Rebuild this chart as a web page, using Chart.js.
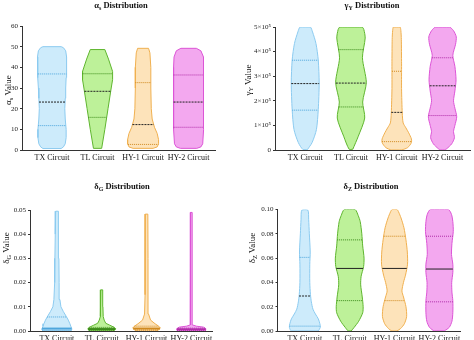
<!DOCTYPE html>
<html>
<head>
<meta charset="utf-8">
<script src="https://cdn.jsdelivr.net/npm/chart.js@4"></script>
<style>
  body { margin: 0; background: #fff; width: 474px; height: 340px; overflow: hidden; position: relative; }
  canvas { position: absolute; }
  .title { position: absolute; font: bold 8.5px 'Liberation Serif', serif; color: #111; white-space: nowrap; transform: translateX(-50%); }
  .ylab { position: absolute; font: 9px 'Liberation Serif', serif; color: #111; white-space: nowrap; transform: translate(-50%, -50%) rotate(-90deg); }
  sub { font-size: 70%; vertical-align: -2px; line-height: 0; }
</style>
</head>
<body>
<canvas id="alphaChart" width="237" height="170" style="left:0;top:0"></canvas>
<canvas id="gammaChart" width="237" height="170" style="left:237px;top:0"></canvas>
<canvas id="deltaGChart" width="237" height="181" style="left:0;top:170px"></canvas>
<canvas id="deltaZChart" width="237" height="181" style="left:237px;top:170px"></canvas>

<div class="title" style="left:121px;top:0px">α<sub>s</sub> Distribution</div>
<div class="title" style="left:372px;top:0px">γ<sub>Y</sub> Distribution</div>
<div class="title" style="left:122px;top:181px">δ<sub>G</sub> Distribution</div>
<div class="title" style="left:371px;top:181px">δ<sub>Z</sub> Distribution</div>
<div class="ylab" style="left:8px;top:90px">α<sub>s</sub> Value</div>
<div class="ylab" style="left:248px;top:80px">γ<sub>Y</sub> Value</div>
<div class="ylab" style="left:6px;top:248px">δ<sub>G</sub> Value</div>
<div class="ylab" style="left:252px;top:248px">δ<sub>Z</sub> Value</div>

<script>
const categories = ['TX Circuit', 'TL Circuit', 'HY-1 Circuit', 'HY-2 Circuit'];

// violin outlines: value levels and half widths (in category units), per circuit
const alphaVals = [
  [0.7, 1.5, 3, 6, 10, 15, 20, 25, 30, 35, 40, 45, 48, 49.5, 50],
  [0.8, 10, 20, 30, 34, 38, 44, 48.6],
  [0.8, 1.5, 3, 5, 8, 11, 15, 20, 30, 40, 47, 49.2],
  [0.8, 1.5, 3, 10, 20, 30, 40, 45, 48, 49.2]
];
const alphaWidths = [
  [0.20, 0.25, 0.29, 0.31, 0.31, 0.29, 0.28, 0.29, 0.30, 0.31, 0.32, 0.32, 0.30, 0.25, 0.20],
  [0.09, 0.16, 0.23, 0.30, 0.33, 0.33, 0.24, 0.16],
  [0.22, 0.31, 0.34, 0.34, 0.31, 0.25, 0.20, 0.18, 0.17, 0.17, 0.15, 0.12],
  [0.18, 0.27, 0.31, 0.33, 0.33, 0.33, 0.33, 0.32, 0.27, 0.17]
];
const alphaQuartiles = [[11.8, 23.2, 36.8], [15.8, 28.4, 36.9], [2.7, 12.3, 32.6], [11, 23.2, 36.3]];

const gammaVals = [
  [0.02e5, 0.3e5, 0.83e5, 1.64e5, 2.72e5, 3.66e5, 4.33e5, 4.8e5, 5e5],
  [0.03e5, 0.56e5, 1.3e5, 1.95e5, 2.75e5, 3.75e5, 4.55e5, 4.9e5, 5e5],
  [0, 0.1e5, 0.3e5, 0.45e5, 0.7e5, 0.9e5, 1.1e5, 1.5e5, 2.5e5, 3.5e5, 4.5e5, 4.85e5, 5e5],
  [0, 0.05e5, 0.25e5, 0.5e5, 0.75e5, 1e5, 1.35e5, 1.7e5, 2e5, 2.4e5, 2.85e5, 3.4e5, 3.85e5, 4.3e5, 4.6e5, 4.85e5, 5e5]
];
const gammaWidths = [
  [0.05, 0.15, 0.245, 0.285, 0.305, 0.285, 0.235, 0.16, 0.11],
  [0.04, 0.16, 0.30, 0.255, 0.335, 0.25, 0.31, 0.28, 0.24],
  [0.11, 0.24, 0.32, 0.32, 0.26, 0.20, 0.14, 0.12, 0.105, 0.105, 0.10, 0.09, 0.07],
  [0.04, 0.09, 0.20, 0.26, 0.24, 0.27, 0.31, 0.27, 0.24, 0.27, 0.295, 0.27, 0.225, 0.285, 0.30, 0.24, 0.15]
];
const gammaQuartiles = [[1.62e5, 2.70e5, 3.65e5], [1.75e5, 2.72e5, 4.08e5], [0.34e5, 1.53e5, 3.2e5], [1.40e5, 2.61e5, 3.75e5]];

const deltaGVals = [
  [0, 0.0005, 0.001, 0.002, 0.003, 0.0045, 0.006, 0.008, 0.010, 0.013, 0.020, 0.030, 0.040, 0.048, 0.0495],
  [0, 0.0003, 0.001, 0.0016, 0.0024, 0.0032, 0.0045, 0.006, 0.010, 0.017],
  [0, 0.0005, 0.0012, 0.002, 0.003, 0.0045, 0.007, 0.015, 0.030, 0.0483],
  [0, 0.0003, 0.001, 0.0016, 0.002, 0.0025, 0.010, 0.049]
];
const deltaGWidths = [
  [0.31, 0.33, 0.33, 0.31, 0.29, 0.255, 0.21, 0.145, 0.09, 0.067, 0.05, 0.045, 0.04, 0.033, 0.027],
  [0.245, 0.29, 0.31, 0.27, 0.18, 0.09, 0.055, 0.033, 0.027, 0.022],
  [0.20, 0.27, 0.31, 0.27, 0.19, 0.09, 0.045, 0.033, 0.033, 0.029],
  [0.29, 0.32, 0.32, 0.27, 0.11, 0.027, 0.018, 0.018]
];
const deltaGQuartiles = [[0.0003, 0.001, 0.0058], [0.0003, 0.0008, 0.0015], [0.0004, 0.001, 0.002], [0.0003, 0.0007, 0.0012]];

const deltaZVals = [
  [0, 0.003, 0.006, 0.010, 0.014, 0.018, 0.024, 0.030, 0.040, 0.055, 0.065, 0.080, 0.092, 0.0995],
  [0, 0.003, 0.008, 0.015, 0.020, 0.028, 0.038, 0.045, 0.053, 0.060, 0.070, 0.080, 0.090, 0.095, 0.100],
  [0, 0.002, 0.006, 0.012, 0.020, 0.028, 0.033, 0.040, 0.046, 0.055, 0.065, 0.075, 0.085, 0.093, 0.098, 0.100],
  [0, 0.003, 0.008, 0.015, 0.025, 0.032, 0.040, 0.048, 0.055, 0.063, 0.072, 0.082, 0.090, 0.096, 0.100]
];
const deltaZWidths = [
  [0.30, 0.345, 0.335, 0.30, 0.235, 0.18, 0.145, 0.125, 0.11, 0.11, 0.12, 0.10, 0.085, 0.067],
  [0.033, 0.10, 0.20, 0.29, 0.30, 0.28, 0.245, 0.255, 0.31, 0.32, 0.29, 0.27, 0.235, 0.19, 0.12],
  [0.055, 0.135, 0.22, 0.27, 0.255, 0.20, 0.165, 0.20, 0.245, 0.29, 0.285, 0.255, 0.21, 0.145, 0.09, 0.055],
  [0.11, 0.22, 0.28, 0.30, 0.30, 0.28, 0.275, 0.30, 0.30, 0.27, 0.28, 0.31, 0.30, 0.27, 0.20]
];
const deltaZQuartiles = [[0.004, 0.0288, 0.0606], [0.025, 0.0515, 0.075], [0.025, 0.0515, 0.078], [0.024, 0.051, 0.078]];

const fillColors = ['#cdebfb', '#bdf199', '#fde3ba', '#f3a8ef'];
const edgeColors = ['#8ccbf0', '#5fb52f', '#f0b050', '#dc55d6'];
const quartColors = ['#4ea6dc', '#3a8a18', '#d08a20', '#b02ca8'];

const FONT = "'Liberation Serif', serif";

function widthAt(vals, widths, v) {
  for (let i = 1; i < vals.length; i++) {
    if (v <= vals[i]) {
      const t = (v - vals[i - 1]) / (vals[i] - vals[i - 1]);
      return widths[i - 1] + t * (widths[i] - widths[i - 1]);
    }
  }
  return widths[widths.length - 1];
}

function buildDatasets(vals, widths, quarts, opts) {
  const ds = [];
  vals.forEach((levels, k) => {
    const c = k + 1;
    const w = widths[k];
    const pts = levels.map((v, i) => ({ x: c + w[i], y: v }));
    for (let i = levels.length - 1; i >= 0; i--) pts.push({ x: c - w[i], y: levels[i] });
    pts.push(pts[0]);
    ds.push({
      data: pts, fill: 'shape', backgroundColor: fillColors[k], borderColor: edgeColors[k],
      borderWidth: 1, pointRadius: 0, tension: opts.tension, order: 3
    });
    quarts[k].forEach((q, j) => {
      const hw = widthAt(levels, w, q);
      const isMed = j === 1;
      ds.push({
        data: [{ x: c - hw, y: q }, { x: c + hw, y: q }],
        borderColor: isMed ? (opts.medianColored ? quartColors[k] : '#222') : quartColors[k],
        borderWidth: isMed ? opts.medianWidth : 1,
        borderDash: isMed ? opts.medianDash[k] : [1, 1],
        pointRadius: 0, fill: false, order: isMed ? 1 : 2
      });
    });
  });
  return ds;
}

function makeChart(id, opts) {
  new Chart(document.getElementById(id), {
    type: 'line',
    data: { datasets: buildDatasets(opts.vals, opts.widths, opts.quarts, opts) },
    options: {
      responsive: false,
      animation: false,
      layout: { padding: { top: opts.top, right: opts.right, left: 0, bottom: 0 } },
      plugins: { legend: { display: false }, tooltip: { enabled: false } },
      scales: {
        x: {
          type: 'linear', min: opts.xMin, max: opts.xMax,
          afterBuildTicks: s => { s.ticks = [1, 2, 3, 4].map(v => ({ value: v })); },
          afterFit: s => { s.height = 20; },
          grid: { display: false, drawTicks: false, tickLength: 0 },
          border: { display: true, color: '#333', width: 1 },
          ticks: { callback: v => categories[v - 1], font: { family: FONT, size: 8 }, color: '#111', padding: 3, maxRotation: 0, autoSkip: false }
        },
        y: {
          min: opts.yMin, max: opts.yMax,
          afterFit: s => { s.width = opts.yWidth; },
          grid: { drawOnChartArea: false, drawTicks: true, tickLength: 2, color: '#333' },
          border: { display: true, color: '#333', width: 1 },
          ticks: { stepSize: opts.yStep, callback: opts.yFmt, font: { family: FONT, size: 7 }, color: '#222', padding: 2 }
        }
      }
    }
  });
}

const dashAll = [[2, 1], [2, 1], [2, 1], [2, 1]];

makeChart('alphaChart', {
  vals: alphaVals, widths: alphaWidths, quarts: alphaQuartiles, medianDash: dashAll, medianWidth: 1, tension: 0,
  top: 26, right: 22, yWidth: 22,
  xMin: 0.34, xMax: 4.58, yMin: 0, yMax: 60, yStep: 10, yFmt: v => v
});
makeChart('gammaChart', {
  vals: gammaVals, widths: gammaWidths, quarts: gammaQuartiles, medianDash: dashAll, medianWidth: 1, tension: 0.25,
  top: 27, right: 4, yWidth: 38,
  xMin: 0.34, xMax: 4.6, yMin: 0, yMax: 5e5, yStep: 1e5,
  yFmt: v => v === 0 ? '0' : Math.round(v / 1e5) + '×10⁵'
});
makeChart('deltaGChart', {
  vals: deltaGVals, widths: deltaGWidths, quarts: deltaGQuartiles, medianDash: [[], [], [], []], medianWidth: 2,
  medianColored: true, tension: 0,
  top: 40, right: 25, yWidth: 30,
  xMin: 0.4, xMax: 4.46, yMin: 0, yMax: 0.05, yStep: 0.01, yFmt: v => v.toFixed(2)
});
makeChart('deltaZChart', {
  vals: deltaZVals, widths: deltaZWidths, quarts: deltaZQuartiles, medianDash: [[2, 1], [], [], []], medianWidth: 1, tension: 0.25,
  top: 39.5, right: 14, yWidth: 40.5,
  xMin: 0.39, xMax: 4.46, yMin: 0, yMax: 0.1, yStep: 0.02, yFmt: v => v.toFixed(2)
});
</script>
</body>
</html>
